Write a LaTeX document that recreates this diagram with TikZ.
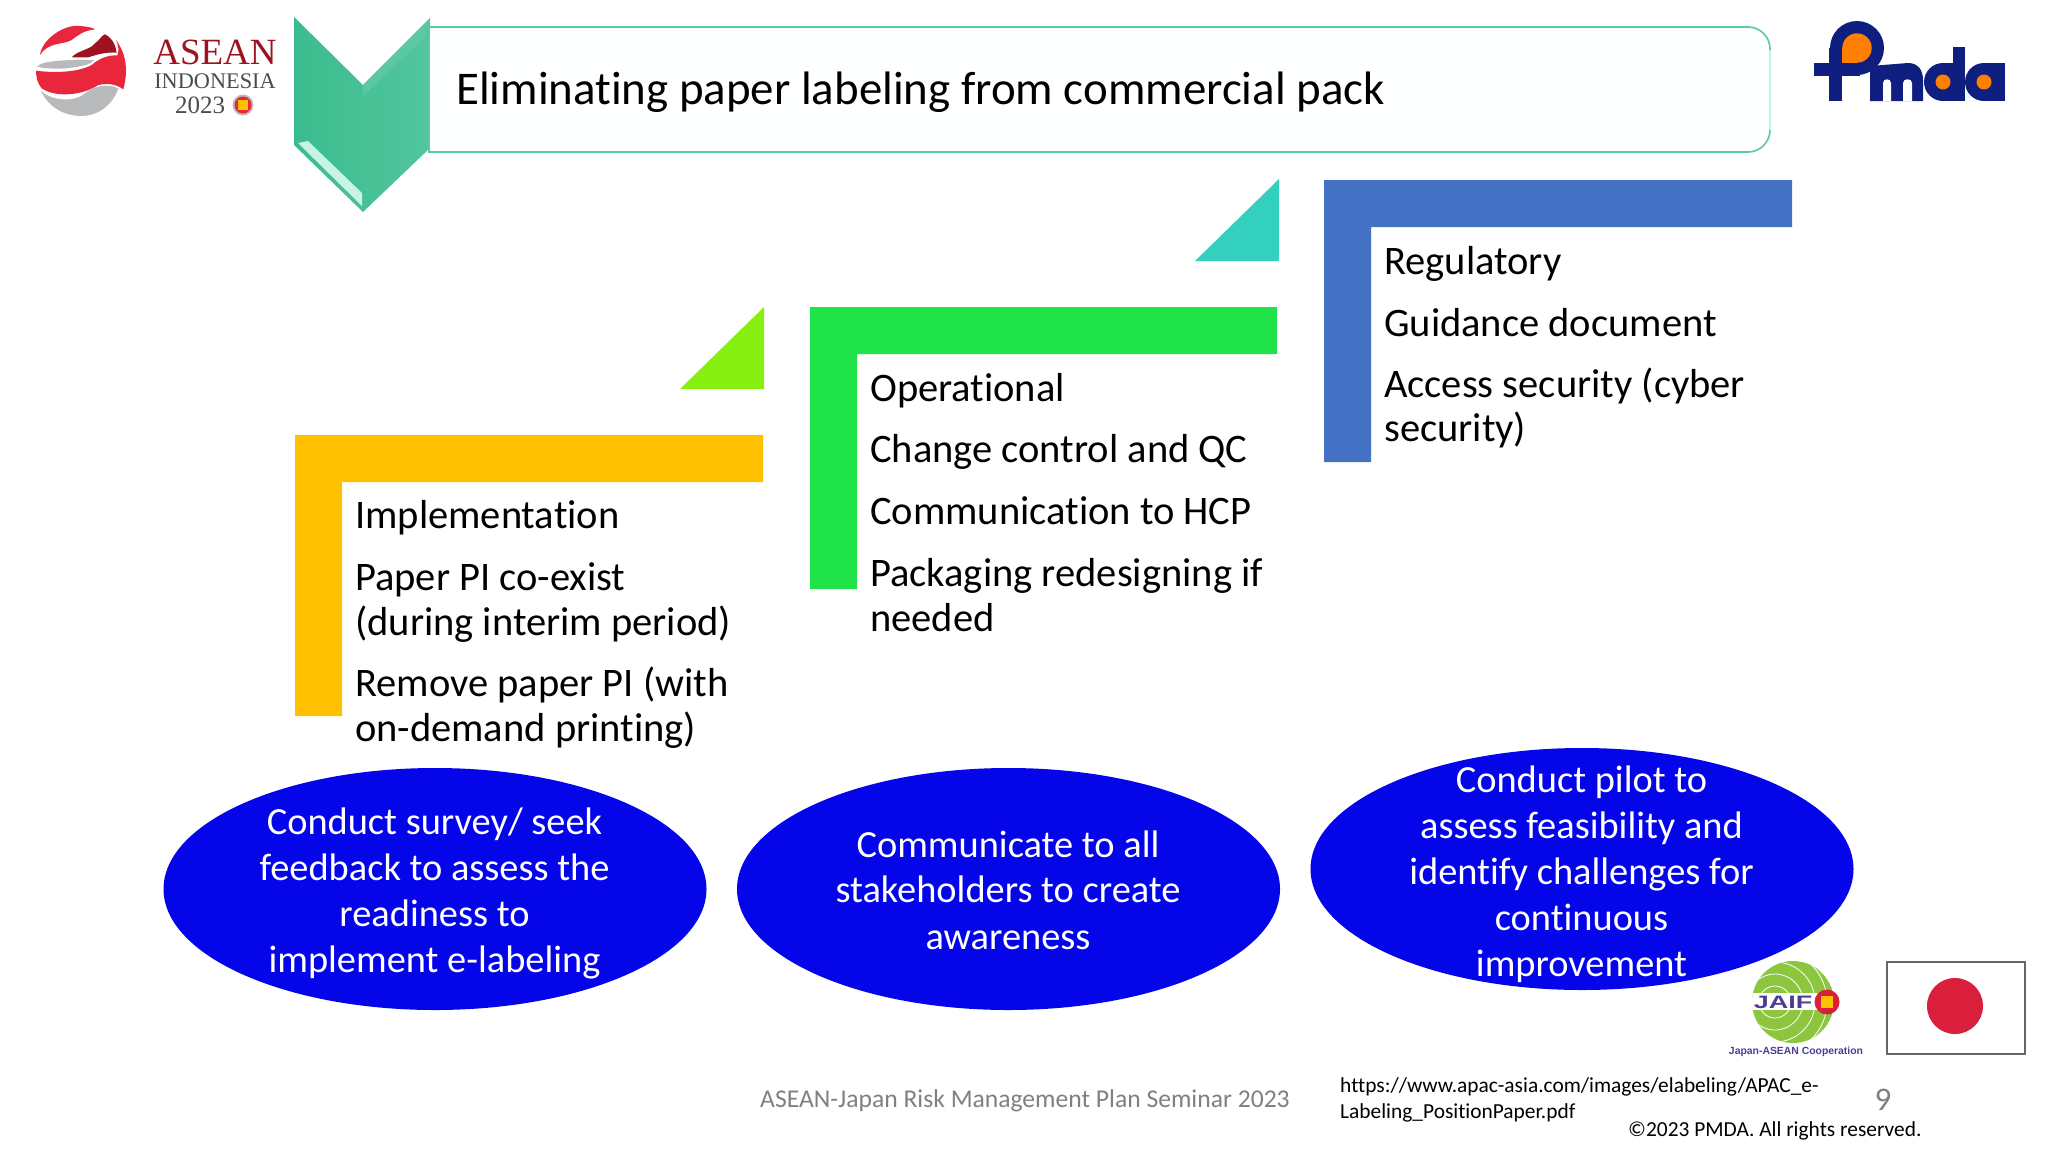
\documentclass[tikz,border=0pt]{standalone}
\usepackage{fontspec}
\setmainfont[Ligatures=NoCommon]{Carlito}
\newfontfamily\serifx{Liberation Serif}
\newfontfamily\sansx{Liberation Sans}
\definecolor{cheva}{HTML}{3ABC8E}
\definecolor{chevb}{HTML}{5AC8A2}
\definecolor{cheve}{HTML}{C8F4E6}
\definecolor{corange}{HTML}{FFC000}
\definecolor{cgreen}{HTML}{20E249}
\definecolor{cblue}{HTML}{4472C4}
\definecolor{clime}{HTML}{88F011}
\definecolor{cteal}{HTML}{33D0C0}
\definecolor{cell}{HTML}{0505EA}
\definecolor{pnavy}{HTML}{0F1F80}
\definecolor{porange}{HTML}{FF8000}
\definecolor{ared}{HTML}{E8263C}
\definecolor{adark}{HTML}{9E1220}
\definecolor{agrey}{HTML}{B8BABC}
\definecolor{jgreen}{HTML}{8CC63F}
\definecolor{jpurple}{HTML}{4F3C96}
\definecolor{jred}{HTML}{DA1F3D}
\tikzset{
  px/.style={x=1pt,y=-1pt},
  body/.style={anchor=base west,inner sep=0pt,font=\fontsize{40.5}{48}\selectfont,text=black},
  elltext/.style={anchor=base,inner sep=0pt,font=\fontsize{38.4}{46}\selectfont,text=white},
  foot/.style={anchor=base west,inner sep=0pt,font=\fontsize{21.4}{26}\selectfont,text=black},
  ell/.style={ellipse,fill=cell,minimum width=543pt,minimum height=242pt,inner sep=0pt},
}
\usetikzlibrary{shapes.geometric}
\begin{document}
\begin{tikzpicture}[px]
\useasboundingbox (0,0) rectangle (2048,1152);
\fill[white] (0,0) rectangle (2048,1152);
% ASEAN logo (coordinates from a 3x crop)
\begin{scope}[x=0.3333pt,y=-0.3333pt]
\fill[ared] (120,165) .. controls (125,120) and (190,72) .. (240,78) .. controls (265,80) and (280,84) .. (285,88) .. controls (250,92) and (235,105) .. (215,120) .. controls (190,135) and (145,125) .. (120,165) -- cycle;
\fill[adark] (215,172) .. controls (235,150) and (270,150) .. (285,130) .. controls (300,120) and (305,105) .. (315,103) .. controls (330,110) and (345,125) .. (350,158) .. controls (320,155) and (285,165) .. (265,172) -- cycle;
\fill[agrey] (112,200) .. controls (120,185) and (180,178) .. (282,180) .. controls (275,192) and (255,198) .. (200,205) .. controls (170,208) and (130,205) .. (112,200) -- cycle;
\fill[ared] (108,212) .. controls (150,218) and (230,220) .. (275,195) .. controls (295,178) and (320,165) .. (352,166) .. controls (358,150) and (355,135) .. (348,120) .. controls (370,150) and (378,180) .. (378,212) .. controls (378,230) and (375,250) .. (370,268) .. controls (345,250) and (320,250) .. (295,255) .. controls (250,285) and (170,295) .. (125,265) .. controls (112,250) and (108,230) .. (108,212) -- cycle;
\fill[agrey] (122,272) .. controls (150,300) and (220,310) .. (255,280) .. controls (285,255) and (330,250) .. (355,266) .. controls (335,320) and (290,348) .. (245,348) .. controls (190,348) and (145,320) .. (122,272) -- cycle;
\end{scope}
\node[anchor=base,inner sep=0pt,text=adark,font=\serifx\fontsize{37}{40}\selectfont] (aseanA) at (215,64) {ASEAN};
\node[anchor=base,inner sep=0pt,text=black!70,font=\serifx\fontsize{22.3}{26}\selectfont] (aseanB) at (215,88) {INDONESIA};
\node[anchor=base,inner sep=0pt,text=black!70,font=\serifx\fontsize{25}{26}\selectfont] (aseanC) at (200,113) {2023};
\fill[agrey] (243,105) circle (10.5pt);
\fill[ared] (243,105) circle (8.5pt);
\fill[corange] (238,100) rectangle (248,110);
% chevron
\shade[left color=cheva,right color=chevb!80!cheva] (294,17) -- (363,85) -- (430,18) -- (430,148) -- (363,212) -- (294,145) -- cycle;
\fill[chevb] (363,85) -- (430,18) -- (426,36) -- (363,96) -- cycle;
\fill[cheve] (298,143) -- (308,141) -- (362,193) -- (362,206) -- cycle;
% title box
\draw[fill=white!98!cheve,draw=chevb,line width=1.6pt,rounded corners=22pt] (429,27) [sharp corners] -- (1000,27) [rounded corners=22pt] -- (1770,27) -- (1770,152) -- (1000,152) [sharp corners] -- (429,152) -- cycle;
\draw[cheve,line width=1.6pt] (1770,50) -- (1770,130);
\node[anchor=base west,inner sep=0pt,text=black,font=\fontsize{46.9}{56}\selectfont] (title) at (456,104) {Eliminating paper labeling from commercial pack};
% PMDA logo
\fill[pnavy] (1857,48) circle (27pt);
\fill[pnavy] (1829,48) rectangle (1842,101);
\fill[pnavy] (1814,63) rectangle (1860,76);
\fill[porange] (1857,48) circle (14.7pt);
\fill[porange] (1842,48) rectangle (1857,63);
\fill[pnavy] (1870,101) -- (1870,66) -- (1908,63) .. controls (1918,63) and (1923,70) .. (1923,80) -- (1923,101) -- cycle;
\fill[white] (1883,101) -- (1883,83) .. controls (1883,78) and (1891,78) .. (1891,83) -- (1891,101) -- cycle;
\fill[white] (1903,101) -- (1903,83) .. controls (1903,78) and (1912,78) .. (1912,83) -- (1912,101) -- cycle;
\fill[pnavy] (1943,82) circle (19pt);
\fill[pnavy] (1943,63) rectangle (1965,101);
\fill[pnavy] (1953,47) rectangle (1965,101);
\fill[pnavy] (1984,82) circle (19pt);
\fill[pnavy] (1984,63) rectangle (2005,101);
\fill[porange] (1943,82) circle (7.5pt);
\fill[porange] (1984,82) circle (7.5pt);
% L shapes
\fill[corange] (295,435) -- (763,435) -- (763,482) -- (342,482) -- (342,716) -- (295,716) -- cycle;
\fill[cgreen] (810,307) -- (1277,307) -- (1277,354) -- (857,354) -- (857,589) -- (810,589) -- cycle;
\fill[cblue] (1324,180) -- (1792,180) -- (1792,227) -- (1371,227) -- (1371,462) -- (1324,462) -- cycle;
\fill[clime] (764,307) -- (764,389) -- (680,389) -- cycle;
\fill[cteal] (1279,179) -- (1279,261) -- (1195,261) -- cycle;
% body text
\node[body] (i1) at (355,528) {Implementation};
\node[body] (i2) at (355,590) {Paper PI co-exist};
\node[body] (i3) at (355,635) {(during interim period)};
\node[body] (i4) at (355,696) {Remove paper PI (with};
\node[body] (i5) at (355,741) {on-demand printing)};
\node[body] (o1) at (870,401) {Operational};
\node[body] (o2) at (870,462) {Change control and QC};
\node[body] (o3) at (870,524) {Communication to HCP};
\node[body] (o4) at (870,586) {Packaging redesigning if};
\node[body] (o5) at (870,631) {needed};
\node[body] (r1) at (1384,274) {Regulatory};
\node[body] (r2) at (1384,336) {Guidance document};
\node[body] (r3) at (1384,397) {Access security (cyber};
\node[body] (r4) at (1384,441) {security)};
% ellipses
\node[ell] (e1) at (435,889) {};
\node[ell] (e2) at (1008.5,889) {};
\node[ell] (e3) at (1582,869) {};
\node[elltext] (e1a) at (434.5,834) {Conduct survey/ seek};
\node[elltext] (e1b) at (434.5,880) {feedback to assess the};
\node[elltext] (e1c) at (434.5,926) {readiness to};
\node[elltext] (e1d) at (434.5,972) {implement e-labeling};
\node[elltext] (e2a) at (1008,857) {Communicate to all};
\node[elltext] (e2b) at (1008,902) {stakeholders to create};
\node[elltext] (e2c) at (1008,949) {awareness};
\node[elltext] (e3a) at (1581.5,792) {Conduct pilot to};
\node[elltext] (e3b) at (1581.5,838) {assess feasibility and};
\node[elltext] (e3c) at (1581.5,884) {identify challenges for};
\node[elltext] (e3d) at (1581.5,930) {continuous};
\node[elltext] (e3e) at (1581.5,976) {improvement};
% JAIF logo
\begin{scope}
\clip (1793,1002) circle (41pt);
\fill[jgreen] (1793,1002) circle (41pt);
\foreach \r in {16,28,40,52}{
  \draw[white,line width=0.8pt] (1775,1002) circle (\r pt);
}
\fill[white] (1750,993) rectangle (1830,1010);
\end{scope}
\node[anchor=base,inner sep=0pt,text=jpurple,font=\sansx\bfseries\fontsize{18}{20}\selectfont] (jaif) at (1783,1008) {\scalebox{1.5}[1]{JAIF}};
\fill[jred] (1827,1002) circle (12.5pt);
\fill[corange] (1821,996) rectangle (1833,1008);
\node[anchor=base,inner sep=0pt,text=jpurple,font=\sansx\bfseries\fontsize{10.4}{12}\selectfont] (jaifb) at (1796,1054) {Japan-ASEAN Cooperation};
% flag
\draw[fill=white,draw=black!60,line width=1.5pt] (1887,962) rectangle (2025,1054);
\fill[jred] (1955,1006) circle (28pt);
% footer
\node[anchor=base west,inner sep=0pt,text=black!50,font=\fontsize{25.6}{28}\selectfont] (ft) at (760,1107) {ASEAN-Japan Risk Management Plan Seminar 2023};
\node[foot] (u1) at (1340,1092) {https://www.apac-asia.com/images/elabeling/APAC\_e-};
\node[foot] (u2) at (1340,1118) {Labeling\_PositionPaper.pdf};
\node[anchor=base,inner sep=0pt,text=black!50,font=\fontsize{33}{36}\selectfont] (pg) at (1883,1110) {9};
\node[foot] (cp) at (1628,1136) {©2023 PMDA. All rights reserved.};
\end{tikzpicture}
\end{document}
